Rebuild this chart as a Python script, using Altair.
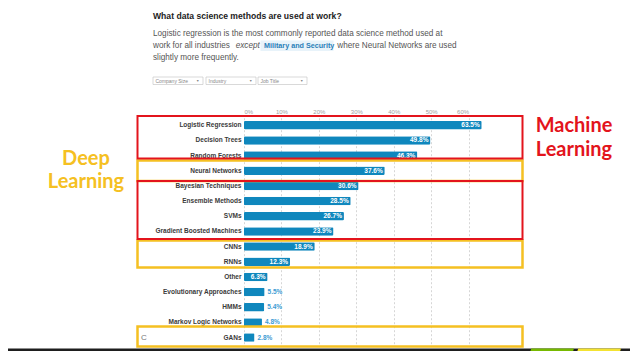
import altair as alt
import pandas as pd

# ---------------- data ----------------
methods = ["Logistic Regression", "Decision Trees", "Random Forests", "Neural Networks",
           "Bayesian Techniques", "Ensemble Methods", "SVMs", "Gradient Boosted Machines",
           "CNNs", "RNNs", "Other", "Evolutionary Approaches", "HMMs",
           "Markov Logic Networks", "GANs"]
shares = [63.5, 49.8, 46.3, 37.6, 30.6, 28.5, 26.7, 23.9, 18.9, 12.3, 6.3, 5.5, 5.4, 4.8, 2.8]
axis_ticks = [0, 10, 20, 30, 40, 50, 60]

title_text = "What data science methods are used at work?"
sub_line1 = "Logistic regression is the most commonly reported data science method used at"
sub_line2a = "work for all industries"
sub_line2b = "except"
sub_chip = "Military and Security"
sub_line2c = "where Neural Networks are used"
sub_line3 = "slightly more frequently."
dropdowns = ["Company Size", "Industry", "Job Title"]

df = pd.DataFrame({"method": methods, "share": shares})
df["label"] = [f"{v:.1f}%" for v in shares]

# ---------------- layout ----------------
OX, OY = 244.0, 117.7          # page position of plot origin
W, H = 224.6, 227.5            # plot area (0..60 %)
TOTAL_W, TOTAL_H = 622, 343
pad = {"left": OX - 8, "top": OY - 8,
       "right": TOTAL_W - (OX - 8) - W, "bottom": TOTAL_H - (OY - 8) - H}

BLUE = "#0f87bd"
RED = "#e3141c"
YELLOW = "#f5c022"
FONT = "Liberation Sans"
one = pd.DataFrame({"a": [0]})


def rect(x1, y1, x2, y2, fill=None, stroke=None, sw=0):
    kw = {}
    if fill is None:
        kw["fillOpacity"] = 0
    else:
        kw["fill"] = fill
    if stroke is not None:
        kw["stroke"] = stroke
        kw["strokeWidth"] = sw
    return alt.Chart(one).mark_rect(**kw).encode(
        x=alt.value(x1 - OX), x2=alt.value(x2 - OX),
        y=alt.value(y1 - OY), y2=alt.value(y2 - OY))


def txt(x, y, s, size, color, weight="normal", align="left", font=FONT, style="normal"):
    return alt.Chart(one).mark_text(
        fontSize=size, color=color, fontWeight=weight, align=align, baseline="middle",
        font=font, fontStyle=style).encode(
        x=alt.value(x - OX), y=alt.value(y - OY), text=alt.value(s))


def shape(x, y, path, size, color):
    return alt.Chart(one).mark_point(shape=path, size=size, filled=True, color=color,
                                     opacity=1, strokeWidth=0).encode(
        x=alt.value(x - OX), y=alt.value(y - OY))


# ---------------- main bar chart ----------------
yenc = alt.Y("method:N", sort=methods,
             scale=alt.Scale(paddingInner=0.44, paddingOuter=0.22),
             axis=alt.Axis(title=None, ticks=False, domain=False, labelFontSize=6.5,
                           labelColor="#3a3a3a", labelFont=FONT, labelFontWeight="bold",
                           labelPadding=3, labelLimit=200, grid=False))
xenc = alt.X("share:Q", scale=alt.Scale(domain=[0, 60], nice=False),
             axis=alt.Axis(title=None, orient="top", values=axis_ticks,
                           labelExpr="datum.value + '%'", ticks=False, domain=False,
                           labelOverlap=False, labelFontSize=6, labelColor="#a0a0a0",
                           labelFont=FONT, labelPadding=3, grid=True, gridDash=[2, 2],
                           gridColor="#cccccc", gridWidth=0.8))

bars = alt.Chart(df).mark_bar(color=BLUE, cornerRadius=1.2).encode(x=xenc, y=yenc)
inner = alt.Chart(df).transform_filter("datum.share >= 6").mark_text(
    align="right", dx=-2, baseline="middle", color="white", fontSize=6.5,
    fontWeight="bold", font=FONT).encode(x=xenc, y=yenc, text="label:N")
outer = alt.Chart(df).transform_filter("datum.share < 6").mark_text(
    align="left", dx=3, baseline="middle", color="#3d9bd3", fontSize=6.5,
    fontWeight="bold", font=FONT).encode(x=xenc, y=yenc, text="label:N")

# ---------------- annotations ----------------
layers = [bars, inner, outer]

# header texts
layers.append(txt(153, 16, title_text, 8.6, "#222222", weight="bold"))
layers.append(txt(153, 33.7, sub_line1, 8.2, "#555555"))
layers.append(txt(153, 45.7, sub_line2a, 8.2, "#555555"))
layers.append(txt(235.7, 45.7, sub_line2b, 8.2, "#555555", style="italic"))
layers.append(rect(260.5, 40.5, 333.5, 51, fill="#e8f3fa"))
layers.append(txt(264, 45.7, sub_chip, 7.2, "#2a7fb8", weight="bold"))
layers.append(txt(337.3, 45.7, sub_line2c, 8.2, "#555555"))
layers.append(txt(153, 57.7, sub_line3, 8.2, "#555555"))

# dropdowns
for (x1, x2), name in zip([(153, 203), (206, 256), (258, 307)], dropdowns):
    layers.append(rect(x1, 77, x2, 84.5, fill="white", stroke="#c8c8c8", sw=0.7))
    layers.append(txt(x1 + 2.5, 80.8, name, 5, "#888888"))
    layers.append(txt(x2 - 7, 80.8, "\u25BC", 3.5, "#888888"))

# highlight boxes
layers.append(rect(137.5, 160.5, 522.5, 181, stroke=YELLOW, sw=2.5))
layers.append(rect(137.5, 240.5, 522.5, 267.5, stroke=YELLOW, sw=2.5))
layers.append(rect(137.5, 326.5, 522.5, 346.5, stroke=YELLOW, sw=2.5))
layers.append(rect(137.5, 116, 522.5, 158.5, stroke=RED, sw=2))
layers.append(rect(137.5, 181, 522.5, 239, stroke=RED, sw=2))

layers.append(txt(86, 159, "Deep", 20, YELLOW, weight="bold", align="center", font="Lato"))
layers.append(txt(86, 182, "Learning", 20, YELLOW, weight="bold", align="center", font="Lato"))
layers.append(txt(574, 125.5, "Machine", 20, RED, weight="bold", align="center", font="Lato"))
layers.append(txt(574, 150, "Learning", 20, RED, weight="bold", align="center", font="Lato"))
layers.append(txt(141, 338, "C", 8, "#777777"))

# footer strip
layers.append(rect(8, 348.5, 633, 370, fill="#1e1e1e"))
para = "M -0.86 -0.22 L 1 -0.22 L 0.86 0.22 L -1 0.22 Z"
layers.append(shape(551, 353.5, para, 46 ** 2, "#76b900"))
layers.append(shape(598, 353.5, para, 46 ** 2, "#f4e331"))

chart = alt.layer(*layers).properties(
    width=W, height=H, padding=pad,
    autosize=alt.AutoSizeParams(type="none"),
    background="white",
).configure_view(stroke=None)

chart.save("out.html", embed_options={"renderer": "svg", "actions": False})
